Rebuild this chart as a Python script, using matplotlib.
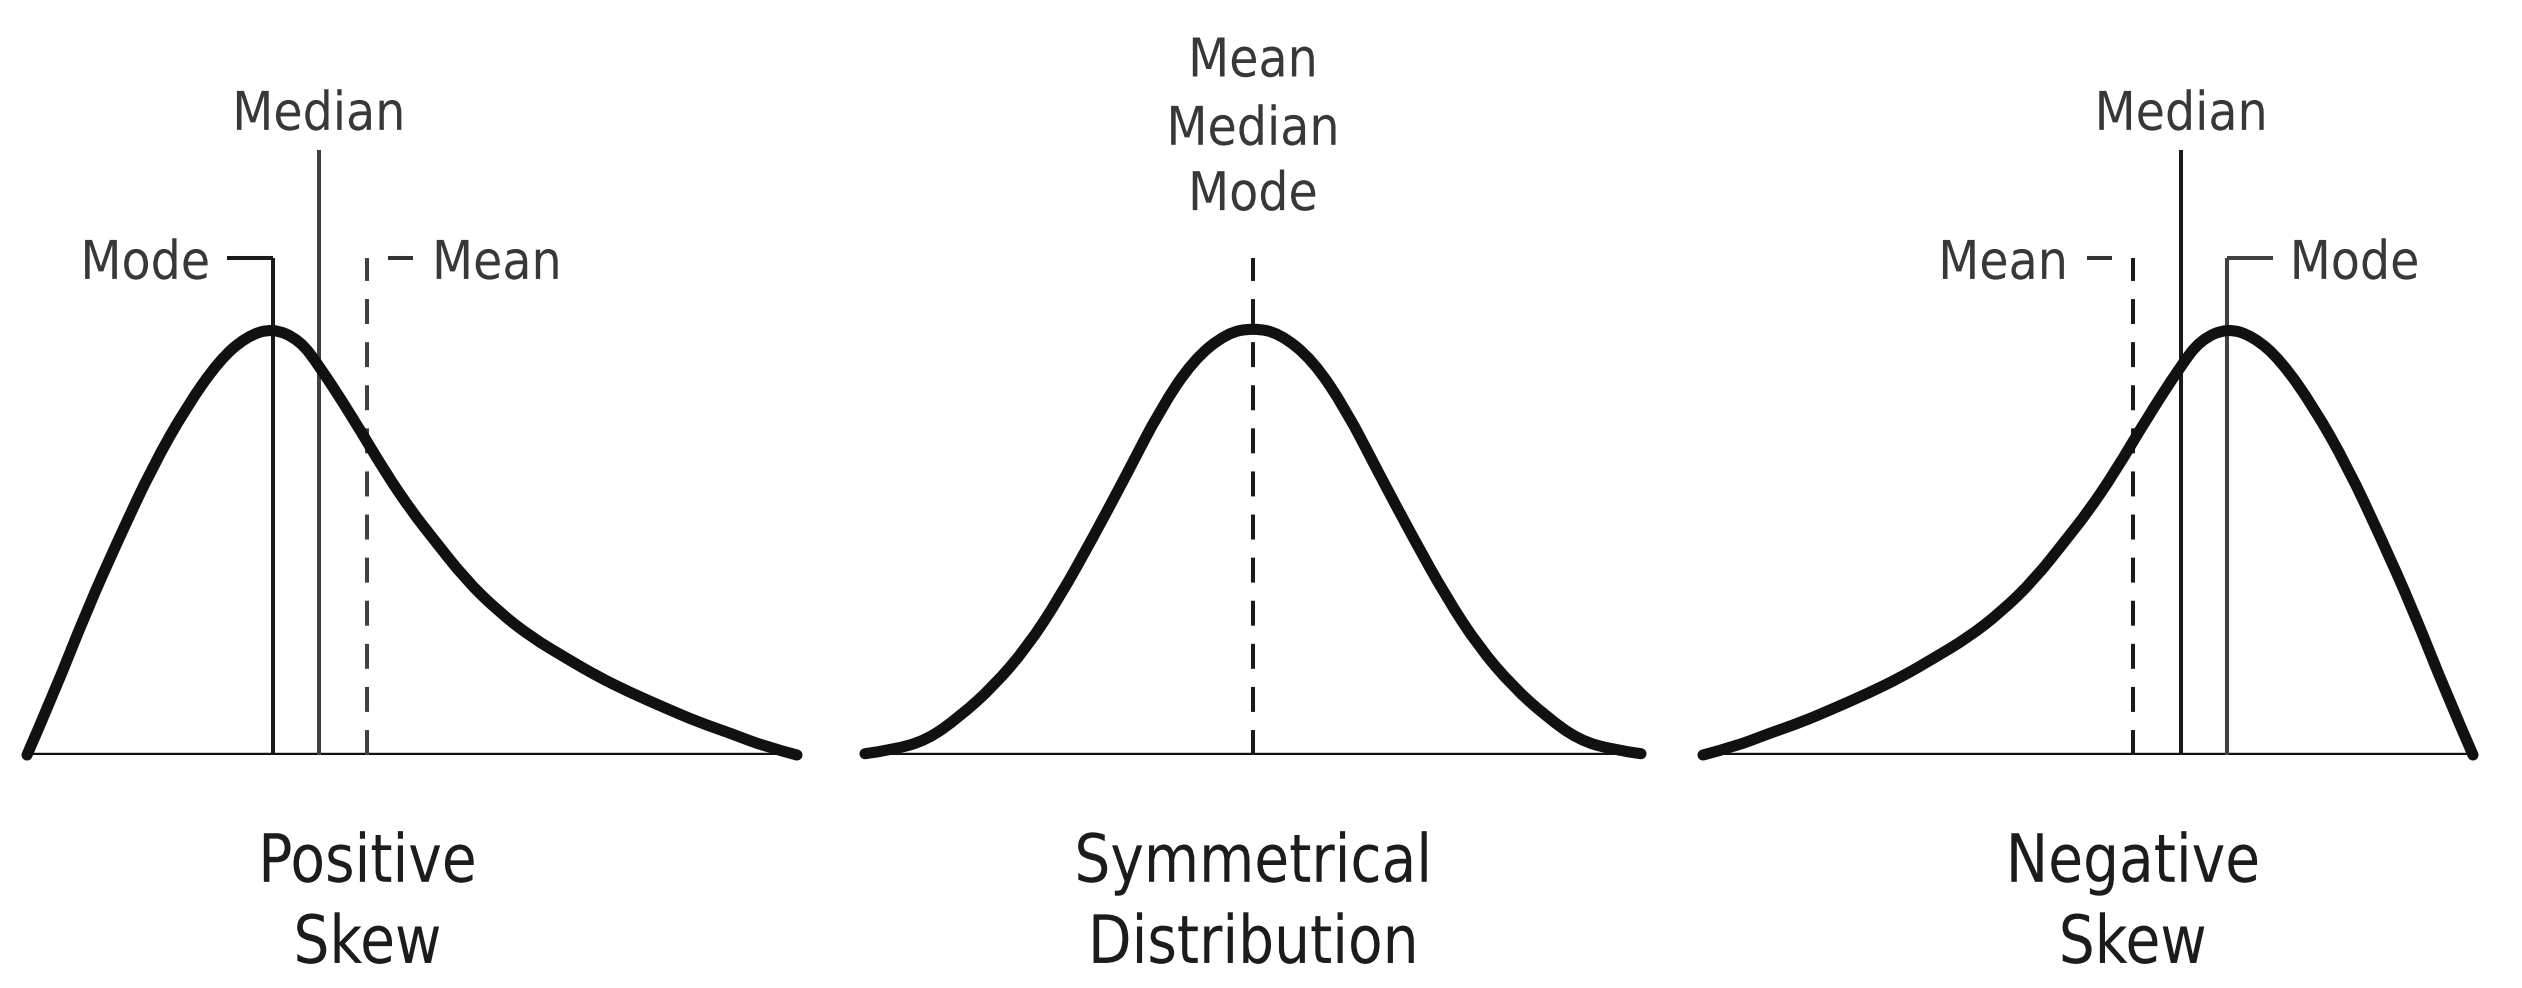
import numpy as np
import matplotlib.pyplot as plt
from matplotlib.path import Path
from matplotlib.patches import PathPatch
from matplotlib.patheffects import AbstractPathEffect
from matplotlib.transforms import Affine2D

# curve shapes
# x = position across the panel (0..1), y = height relative to the peak (peak = 1)
skew_x = [0, 0.035, 0.078, 0.12, 0.163, 0.207, 0.25, 0.285, 0.319, 0.354, 0.38,
          0.423, 0.466, 0.50, 0.526, 0.57, 0.613, 0.655, 0.70, 0.742, 0.785,
          0.829, 0.872, 0.915, 0.958, 1.0]
skew_y = [0, 0.145, 0.34, 0.51, 0.675, 0.815, 0.925, 0.98, 1.0, 0.972, 0.91,
          0.79, 0.66, 0.57, 0.51, 0.41, 0.335, 0.276, 0.227, 0.183, 0.145,
          0.11, 0.077, 0.05, 0.02, 0.0]

sym_x = [0, 0.036, 0.08, 0.122, 0.165, 0.209, 0.251, 0.294, 0.338, 0.38, 0.423,
         0.466, 0.5, 0.534, 0.577, 0.62, 0.662, 0.706, 0.749, 0.791, 0.835,
         0.878, 0.92, 0.964, 1.0]
sym_y = [0.003, 0.012, 0.035, 0.09, 0.16, 0.253, 0.37, 0.51, 0.66, 0.808, 0.925,
         0.988, 1.0, 0.988, 0.925, 0.808, 0.66, 0.51, 0.37, 0.253, 0.16,
         0.09, 0.035, 0.012, 0.003]

# where mode / median / mean sit on the positive-skew panel (negative = mirror)
pos_mode, pos_median, pos_mean = 0.319, 0.379, 0.442
sym_center = 0.5

titles = [["Positive", "Skew"], ["Symmetrical", "Distribution"], ["Negative", "Skew"]]
title_x = [pos_mean, sym_center, 1 - pos_mean]

CURVE = "#111111"
TEXT = "#383838"
W, H = 2522, 988


class Squeeze(AbstractPathEffect):
    """squash text horizontally around x0 (display px) - narrow letter shapes"""
    def __init__(self, sx, x0):
        super().__init__()
        self.sx, self.x0 = sx, x0

    def draw_path(self, renderer, gc, tpath, affine, rgbFace=None):
        sq = Affine2D().translate(-self.x0, 0).scale(self.sx, 1).translate(self.x0, 0)
        renderer.draw_path(gc, tpath, affine + sq, rgbFace)


def label(ax, x, y, s, size=38.5, sx=0.89, color=TEXT, **kw):
    x0 = ax.transData.transform((x, y))[0]
    ax.text(x, y, s, fontsize=size, color=color, family="DejaVu Sans",
            va="baseline", path_effects=[Squeeze(sx, x0)], **kw)


def smooth_curve(ax, x, y):
    # quadratic bezier through the read points (midpoint scheme)
    pts = np.column_stack([x, y])
    verts, codes = [pts[0]], [Path.MOVETO]
    for i in range(1, len(pts) - 1):
        end = (pts[i] + pts[i + 1]) / 2 if i < len(pts) - 2 else pts[i + 1]
        verts += [pts[i], end]
        codes += [Path.CURVE3, Path.CURVE3]
    patch = PathPatch(Path(verts, codes), fill=False, edgecolor=CURVE, lw=8,
                      capstyle="round", joinstyle="round", clip_on=False, zorder=3)
    ax.add_patch(patch)


def vline(ax, x, top, dashed=False, color="#262626"):
    ls = (0, (6.2, 4.5)) if dashed else "solid"
    ax.vlines(x, 0, top, color=color, lw=2.9, linestyles=ls, clip_on=False, zorder=2)


fig = plt.figure(figsize=(W / 100, H / 100), dpi=100)
fig.patch.set_facecolor("white")

# panel boxes in pixels: left edge, width (baseline at y=755, peak height 427)
panels = [(27, 770), (865, 776), (1703, 770)]
axes = []
for left, width in panels:
    ax = fig.add_axes([left / W, (H - 755) / H, width / W, 427 / H])
    ax.set_xlim(0, 1)
    ax.set_ylim(0, 1)
    ax.axis("off")
    ax.axhline(0, color=CURVE, lw=3.2, zorder=1)
    axes.append(ax)

top = 1.164      # top of mode / mean lines
med_top = 1.417  # top of median line
side_base = 1.115
med_base = 1.464

# --- positive skew ---
ax = axes[0]
smooth_curve(ax, skew_x, skew_y)
vline(ax, pos_mode, top, color="#1a1a1a")
vline(ax, pos_median, med_top, color="#404040")
vline(ax, pos_mean, top, dashed=True, color="#404040")
ax.hlines(top, 0.26, pos_mode, color="#1a1a1a", lw=2.9, clip_on=False)
ax.hlines(top, 0.469, 0.501, color="#333333", lw=2.9, clip_on=False)
label(ax, 0.238, side_base, "Mode", ha="right")
label(ax, 0.526, side_base, "Mean", ha="left")
label(ax, pos_median, med_base, "Median", ha="center")

# --- symmetrical ---
ax = axes[1]
smooth_curve(ax, sym_x, sym_y)
vline(ax, sym_center, top, dashed=True, color="#1a1a1a")
for s, yb in zip(["Mean", "Median", "Mode"], [1.589, 1.429, 1.276]):
    label(ax, sym_center, yb, s, ha="center")

# --- negative skew (mirror image of the positive one) ---
ax = axes[2]
smooth_curve(ax, 1 - np.array(skew_x), skew_y)
vline(ax, 1 - pos_mode, top, color="#404040")
vline(ax, 1 - pos_median, med_top, color="#1a1a1a")
vline(ax, 1 - pos_mean, top, dashed=True, color="#1a1a1a")
ax.hlines(top, 1 - pos_mode, 1 - 0.26, color="#404040", lw=2.9, clip_on=False)
ax.hlines(top, 1 - 0.501, 1 - 0.469, color="#333333", lw=2.9, clip_on=False)
label(ax, 1 - 0.238, side_base, "Mode", ha="left")
label(ax, 1 - 0.526, side_base, "Mean", ha="right")
label(ax, 1 - pos_median, med_base, "Median", ha="center")

# panel titles underneath
for ax, lines, tx in zip(axes, titles, title_x):
    for s, yb in zip(lines, [-0.297, -0.487]):
        label(ax, tx, yb, s, size=48, sx=0.85, color="#1c1c1c", ha="center")

fig.savefig("out.png", dpi=100, facecolor="white")
